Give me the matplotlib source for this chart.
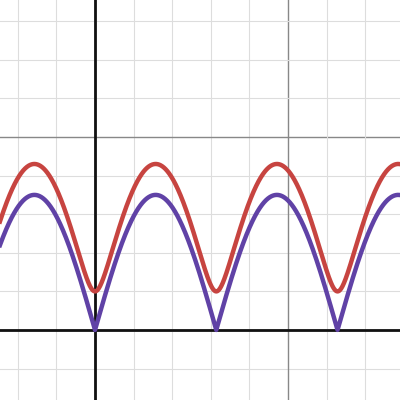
import numpy as np
import matplotlib
matplotlib.use("Agg")
import matplotlib.pyplot as plt

amp_purple = 3.5
red_base = 1.0
red_coef = 17.5
x = np.linspace(-2.5, 8.0, 2000)
purple = amp_purple * np.abs(np.sin(x))
red = np.sqrt(red_base + red_coef * np.sin(x) ** 2)

fig = plt.figure(figsize=(4, 4), dpi=100)
ax = fig.add_axes([0, 0, 1, 1])
xmin, xmax = -95 / 38.6, 305 / 38.6
ymin, ymax = -70 / 38.6, 330 / 38.6
ax.set_xlim(xmin, xmax)
ax.set_ylim(ymin, ymax)
for v in range(-3, 9):
    major = v % 5 == 0
    ax.axvline(v, color="#888" if major else "#ddd", lw=1 if major else 0.8, zorder=0)
    ax.axhline(v, color="#888" if major else "#ddd", lw=1 if major else 0.8, zorder=0)
ax.axvline(0, color="#111", lw=2, zorder=1)
ax.axhline(0, color="#111", lw=2, zorder=1)
ax.plot(x, red, color="#c74440", lw=3.2, zorder=3)
ax.plot(x, purple, color="#6042a6", lw=3.2, zorder=3)
ax.set_xticks([]); ax.set_yticks([])
for s in ax.spines.values():
    s.set_visible(False)
fig.savefig("out.png")
